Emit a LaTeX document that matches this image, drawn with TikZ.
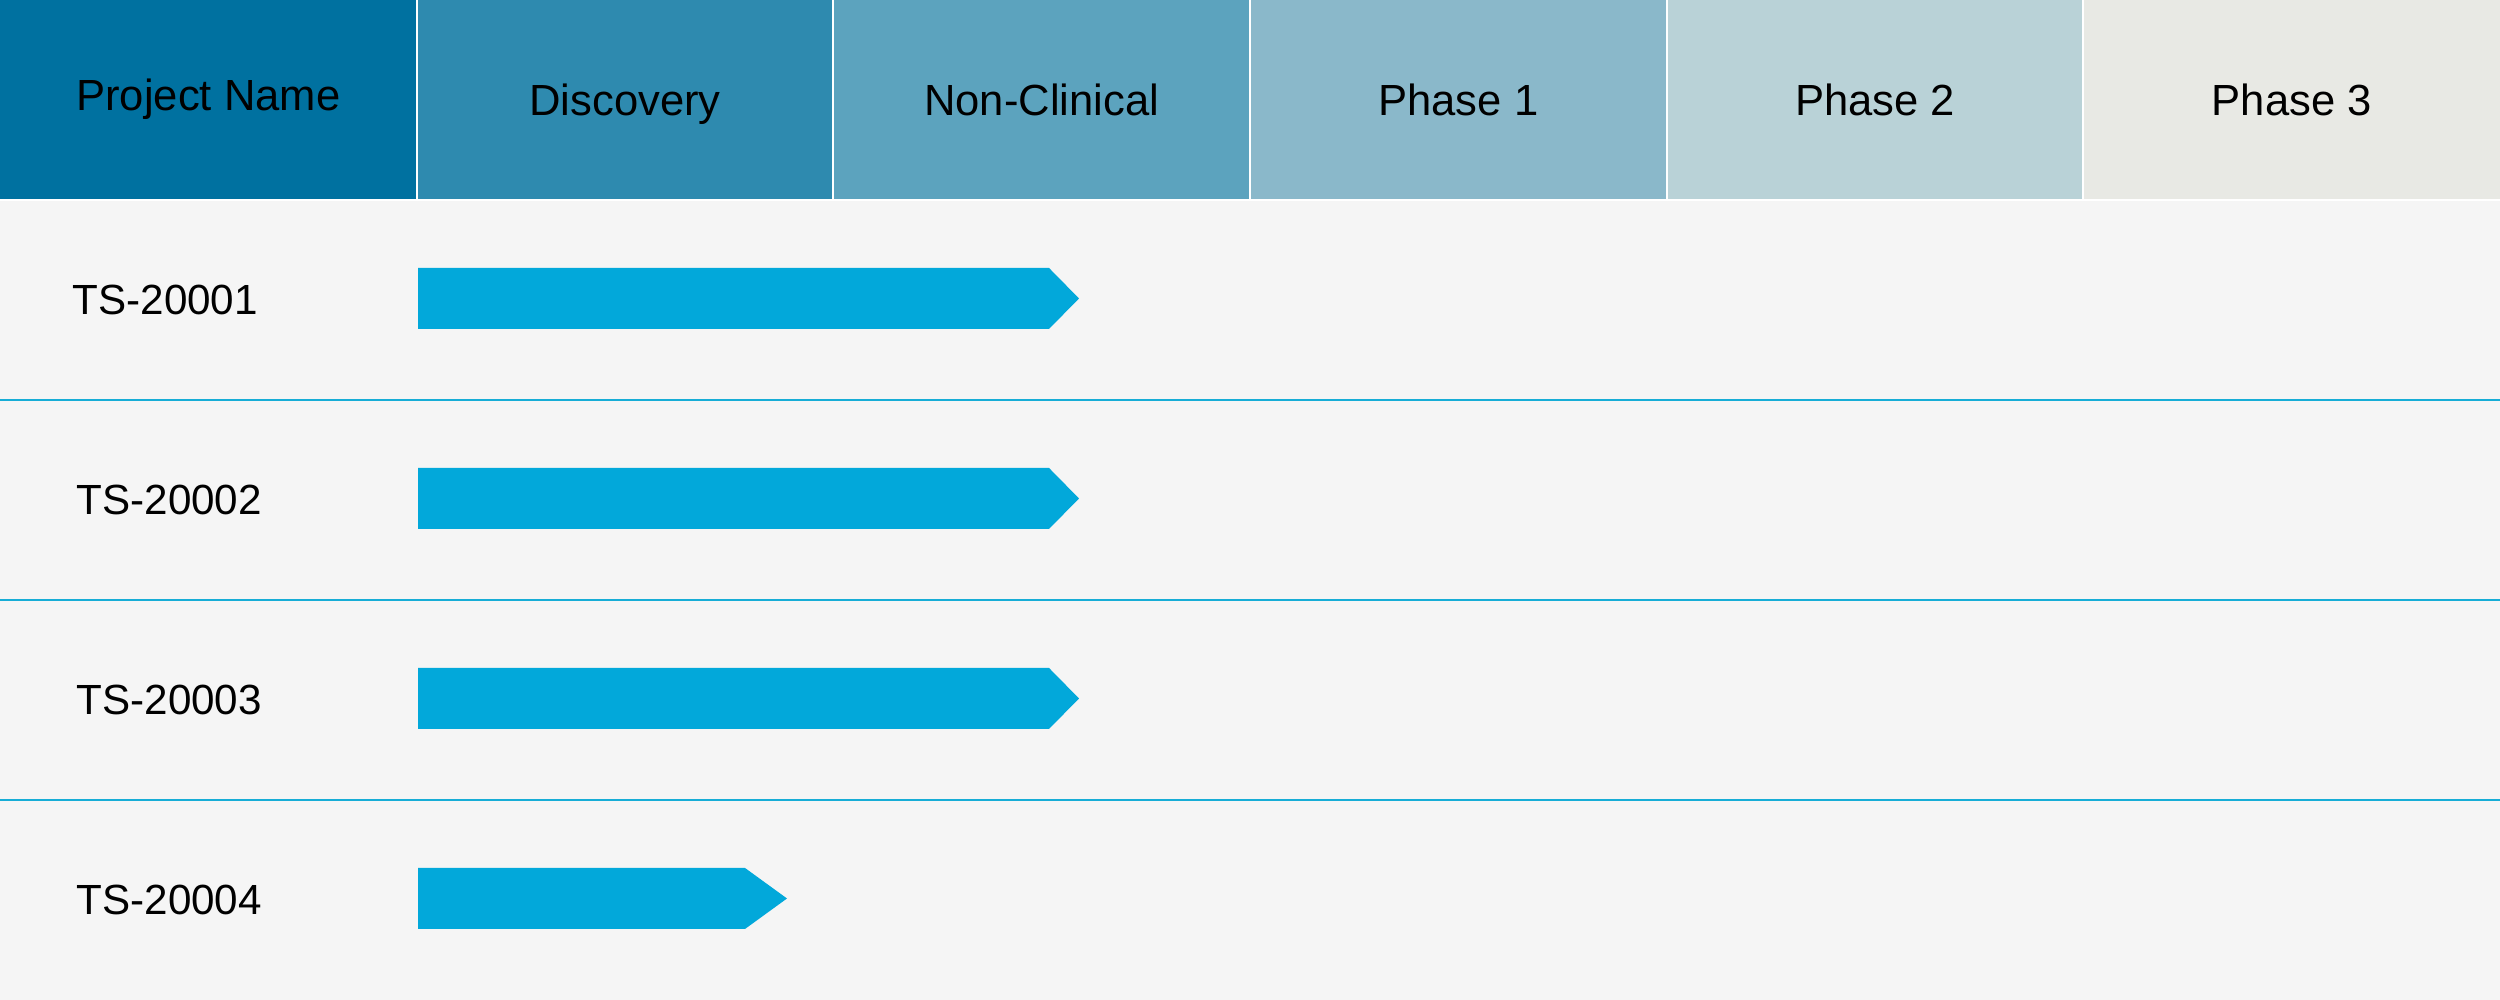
\documentclass[tikz,border=0pt]{standalone}
\usepackage{fontspec}
\setmainfont{Liberation Sans}
\usetikzlibrary{positioning}

\definecolor{hdrA}{HTML}{0071A0}
\definecolor{hdrB}{HTML}{2E8AAF}
\definecolor{hdrC}{HTML}{5CA3BE}
\definecolor{hdrD}{HTML}{8AB8CA}
\definecolor{hdrE}{HTML}{B9D2D7}
\definecolor{hdrF}{HTML}{E8E9E4}
\definecolor{rowbg}{HTML}{F5F5F5}
\definecolor{barblue}{HTML}{02A8DA}
\definecolor{sepline}{HTML}{17ADD6}

\begin{document}
\begin{tikzpicture}[font=\fontsize{12}{14}\selectfont,node distance=0pt]
  \tikzstyle{header}=[rectangle,inner sep=0pt,outer sep=0pt,text height=0.32cm,text depth=0cm,
    minimum width=4.1667cm,minimum height=2cm,text=black,font=\fontsize{12.4}{14}\selectfont]
  \tikzstyle{rowlabel}=[anchor=west,inner sep=0pt,text=black]
  \tikzstyle{bar}=[fill=barblue]
  \tikzstyle{sep}=[draw=sepline,line width=0.015cm]
  \tikzstyle{gap}=[draw=white,line width=0.02cm]

  \useasboundingbox (0,0) rectangle (25,10);
  \fill[rowbg] (0,0) rectangle (25,8);

  \node[header,fill=hdrA] (hname) at (2.0833,9) {\raisebox{0.05cm}{Project Name}};
  \node[header,fill=hdrB] (hdisc) [right=of hname] {Discovery};
  \node[header,fill=hdrC] (hnon)  [right=of hdisc] {Non-Clinical};
  \node[header,fill=hdrD] (hph1)  [right=of hnon]  {Phase 1};
  \node[header,fill=hdrE] (hph2)  [right=of hph1]  {Phase 2};
  \node[header,fill=hdrF] (hph3)  [right=of hph2]  {Phase 3};

  % white gaps between the header cells
  \draw[gap] (hdisc.north west) -- (hdisc.south west);
  \draw[gap] (hnon.north west) -- (hnon.south west);
  \draw[gap] (hph1.north west) -- (hph1.south west);
  \draw[gap] (hph2.north west) -- (hph2.south west);
  \draw[gap] (hph3.north west) -- (hph3.south west);
  \draw[gap] (hname.south west) -- (hph3.south east);

  \node[rowlabel] (p1) at (0.72,7) {TS-20001};
  \node[rowlabel] (p2) at (0.76,5) {TS-20002};
  \node[rowlabel] (p3) at (0.76,3) {TS-20003};
  \node[rowlabel] (p4) at (0.76,1) {TS-20004};

  \draw[sep] (0,6) -- (25,6);
  \draw[sep] (0,4) -- (25,4);
  \draw[sep] (0,2) -- (25,2);

  \fill[bar] (4.18,6.71) -- (10.49,6.71) -- (10.79,7.015) -- (10.49,7.32) -- (4.18,7.32) -- cycle;
  \fill[bar] (4.18,4.71) -- (10.49,4.71) -- (10.79,5.015) -- (10.49,5.32) -- (4.18,5.32) -- cycle;
  \fill[bar] (4.18,2.71) -- (10.49,2.71) -- (10.79,3.015) -- (10.49,3.32) -- (4.18,3.32) -- cycle;
  \fill[bar] (4.18,0.71) -- (7.45,0.71) -- (7.87,1.015) -- (7.45,1.32) -- (4.18,1.32) -- cycle;
\end{tikzpicture}
\end{document}
